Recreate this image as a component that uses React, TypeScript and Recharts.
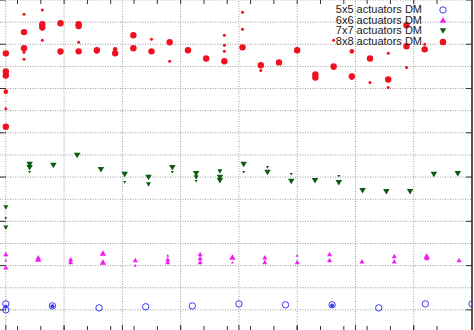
import React from 'react';
import { ScatterChart, Scatter, XAxis, YAxis, ReferenceLine } from 'recharts';

// ---- data (x = position along run, y = metric) ----
const dm5X = [0, 4, 8, 12, 16, 20, 24, 28, 32, 36, 40];
const dm5Y: number[][] = [
  [1.27, 1.14, 1.0], [1.18, 1.16], [1.09], [1.14], [1.18], [1.27], [1.23], [1.23, 1.2], [1.09], [1.27], [1.27],
];
const dm5S = ['LSL', 'LS', 'L', 'L', 'L', 'L', 'L', 'LS', 'L', 'L', 'L'];

const dm6X = [0, 2.78, 5.56, 8.33, 11.11, 13.89, 16.67, 19.44, 22.22, 25, 27.78, 30.56, 33.33, 36.11, 38.89];
const dm6Y: number[][] = [
  [3.5, 3.23, 2.91], [3.36, 3.27], [3.27, 3.14], [3.55, 3.14], [3.23, 3.0], [3.45, 3.27, 3.14],
  [3.5, 3.32, 3.14], [3.36, 3.14], [3.36, 3.14], [3.45, 3.14], [3.5, 3.23], [3.18], [3.41, 3.18],
  [3.41, 3.32], [3.23],
];
const dm6S = ['MSM', 'ML', 'MM', 'LL', 'MS', 'SMM', 'MMM', 'LS', 'MM', 'SM', 'MM', 'M', 'MM', 'LM', 'M'];

const dm7X = [0, 2.04, 4.08, 6.12, 8.16, 10.2, 12.24, 14.29, 16.33, 18.37, 20.41, 22.45, 24.49, 26.53, 28.57, 30.61, 32.65, 34.69, 36.73, 38.78];
const dm7Y: number[][] = [
  [5.64, 5.14, 4.73], [7.59, 7.45, 7.23], [7.55], [8.0], [7.36], [7.14, 6.77], [7.0, 6.68], [7.45, 7.23],
  [7.18, 7.0, 6.82], [7.27, 7.0, 6.86], [7.59, 7.23], [7.45, 7.23], [7.14, 6.82], [6.86], [7.05, 6.77],
  [6.41], [6.36], [6.36], [7.14], [7.18],
];
const dm7S = ['MSM', 'LLS', 'L', 'L', 'L', 'LS', 'LM', 'LS', 'LMS', 'MLL', 'LS', 'SL', 'SL', 'L', 'SL', 'L', 'L', 'L', 'L', 'L'];

const dm8X = [0, 1.56, 3.13, 4.69, 6.25, 7.81, 9.38, 10.94, 12.5, 14.06, 15.63, 17.19, 18.75, 20.31, 21.88, 23.44, 25, 26.56, 28.13, 29.69, 31.25, 32.81, 34.38, 35.94];
const dm8Y: number[][] = [
  [12.59, 11.77, 11.59, 10.86, 10.09, 9.27], [14.36, 13.55, 12.82, 12.64, 12.32], [14.55, 13.91, 13.77, 13.68, 13.18],
  [13.95, 12.68, 12.59], [13.91, 13.82, 13.09, 12.68], [12.73, 12.64], [12.77, 12.59], [13.41, 12.82],
  [13.23, 12.68], [13.09, 12.23], [12.73], [12.36], [13.41, 12.95, 12.68, 12.23], [14.45, 13.68, 12.86],
  [12.05, 11.82], [12.18], [12.73], [11.64, 11.5], [13.18, 12.0, 11.91], [12.68, 11.55, 11.45],
  [12.36, 11.27], [12.59, 11.41, 11.05], [13.86, 12.91, 11.95], [13.0, 12.77],
];
const dm8S = ['LLLMSL', 'SLLSS', 'SLLSS', 'LLS', 'LLSL', 'LS', 'ML', 'LL', 'SL', 'LS', 'L', 'L', 'SSSL', 'SSL', 'LS', 'L', 'L', 'LL', 'SLS', 'MLS', 'LS', 'SLS', 'LLS', 'SL'];

const legendLabels = ['5x5 actuators DM', '6x6 actuators DM', '7x7 actuators DM', '8x8 actuators DM'];

const majorXTicks = [0, 5, 10, 15, 20, 25, 30, 35, 40];
const minorXTicks = [0, 1, 2, 3, 4, 5, 6, 7, 8, 9, 10, 11, 12, 13, 14, 15, 16, 17, 18, 19, 20, 21, 22, 23, 24, 25, 26, 27, 28, 29, 30, 31, 32, 33, 34, 35, 36, 37, 38, 39, 40];
const yTicks = [0, 1, 2, 3, 4, 5, 6, 7, 8, 9, 10, 11, 12, 13, 14, 15];

// ---- colours ----
const BLUE = '#3b3bf5';
const MAGENTA = '#f21cf2';
const GREEN = '#0c5c0c';
const RED = '#f01020';
const GRID = '#9a9a9a';

type Pt = { x: number; y: number; s: string };
const toPts = (xs: number[], ys: number[][], ss: string[]): Pt[] =>
  xs.flatMap((x, i) => ys[i].map((y, j) => ({ x, y, s: ss[i][j] })));

const pts5 = toPts(dm5X, dm5Y, dm5S);
const pts6 = toPts(dm6X, dm6Y, dm6S);
const pts7 = toPts(dm7X, dm7Y, dm7S);
const pts8 = toPts(dm8X, dm8Y, dm8S);

const BlueShape = (p: any) => {
  if (p.payload.s === 'S') return <circle cx={p.cx} cy={p.cy} r={2} fill={BLUE} />;
  return <circle cx={p.cx} cy={p.cy} r={3.2} fill="none" stroke={BLUE} strokeWidth={1} />;
};
const triUp = (cx: number, cy: number, w: number, h: number) =>
  `${cx},${cy - h * 0.6} ${cx - w / 2},${cy + h * 0.4} ${cx + w / 2},${cy + h * 0.4}`;
const triDown = (cx: number, cy: number, w: number, h: number) =>
  `${cx},${cy + h * 0.6} ${cx - w / 2},${cy - h * 0.4} ${cx + w / 2},${cy - h * 0.4}`;
const sz: Record<string, [number, number]> = { L: [6.5, 5.5], M: [5, 4.5], S: [3, 2.6] };
const MagShape = (p: any) => {
  const [w, h] = sz[p.payload.s];
  return <polygon points={triUp(p.cx, p.cy, w, h)} fill={MAGENTA} />;
};
const GreenShape = (p: any) => {
  const [w, h] = sz[p.payload.s];
  return <polygon points={triDown(p.cx, p.cy, w, h)} fill={GREEN} />;
};
const rr: Record<string, number> = { L: 3.2, M: 2.3, S: 1.5 };
const RedShape = (p: any) => <circle cx={p.cx} cy={p.cy} r={rr[p.payload.s]} fill={RED} />;

const legendMarkers = [
  <circle key="a" cx={5} cy={5} r={3.2} fill="none" stroke={BLUE} />,
  <polygon key="b" points={triUp(5, 5.5, 6.5, 5.5)} fill={MAGENTA} />,
  <polygon key="c" points={triDown(5, 4.5, 6.5, 5.5)} fill={GREEN} />,
  <circle key="d" cx={5} cy={5} r={3.3} fill={RED} />,
];

const NoLabel = () => <g />;

export default function App() {
  return (
    <div style={{ position: 'absolute', left: 0, top: 0, width: 474, height: 330, overflow: 'hidden', background: '#fff' }}>
      <ScatterChart width={475} height={332} margin={{ top: 0, right: 3, bottom: 0, left: 0 }}>
        <XAxis xAxisId={0} type="number" dataKey="x" domain={[-0.5, 40]} ticks={majorXTicks} orientation="bottom"
          mirror height={1} tick={NoLabel} axisLine={false} tickSize={7} tickLine={{ stroke: '#333' }} allowDataOverflow />
        <XAxis xAxisId="minor" type="number" dataKey="x" domain={[-0.5, 40]} ticks={minorXTicks} orientation="bottom"
          mirror height={1} tick={NoLabel} axisLine={false} tickSize={5} tickLine={{ stroke: '#333' }} allowDataOverflow />
        <XAxis xAxisId="top" type="number" dataKey="x" domain={[-0.5, 40]} ticks={minorXTicks} orientation="top"
          mirror height={1} tick={NoLabel} axisLine={false} tickSize={4} tickLine={{ stroke: '#333' }} allowDataOverflow />
        <YAxis yAxisId={0} type="number" dataKey="y" domain={[0, 15]} ticks={yTicks} orientation="left"
          mirror width={1} tick={NoLabel} axisLine={false} tickSize={6} tickLine={{ stroke: '#333' }} allowDataOverflow />
        <YAxis yAxisId="right" type="number" dataKey="y" domain={[0, 15]} ticks={yTicks} orientation="right"
          mirror width={1} tick={NoLabel} axisLine={{ stroke: '#555', strokeWidth: 2 }} tickSize={6} tickLine={{ stroke: '#333' }} allowDataOverflow />
        {majorXTicks.map((v) => (
          <ReferenceLine key={'vx' + v} x={v} stroke={GRID} strokeDasharray="1 1.5" ifOverflow="visible" />
        ))}
        {yTicks.map((v) => (
          <ReferenceLine key={'hy' + v} y={v} stroke={GRID} strokeDasharray="1 1.5" ifOverflow="visible" />
        ))}
        <Scatter data={pts5} shape={BlueShape} isAnimationActive={false} />
        <Scatter data={pts6} shape={MagShape} isAnimationActive={false} />
        <Scatter data={pts7} shape={GreenShape} isAnimationActive={false} />
        <Scatter data={pts8} shape={RedShape} isAnimationActive={false} />
      </ScatterChart>
      <div style={{ position: 'absolute', left: 330, top: 4, width: 120, fontFamily: '"Liberation Sans", Arial, sans-serif', fontSize: 11, color: '#222' }}>
        {legendLabels.map((t, i) => (
          <div key={t} style={{ height: 10.7, lineHeight: '10.7px', position: 'relative', whiteSpace: 'nowrap' }}>
            <span style={{ position: 'absolute', right: 28, top: 0 }}>{t}</span>
            <svg width={10} height={10} style={{ position: 'absolute', left: 108, top: 0.5 }}>{legendMarkers[i]}</svg>
          </div>
        ))}
      </div>
    </div>
  );
}
